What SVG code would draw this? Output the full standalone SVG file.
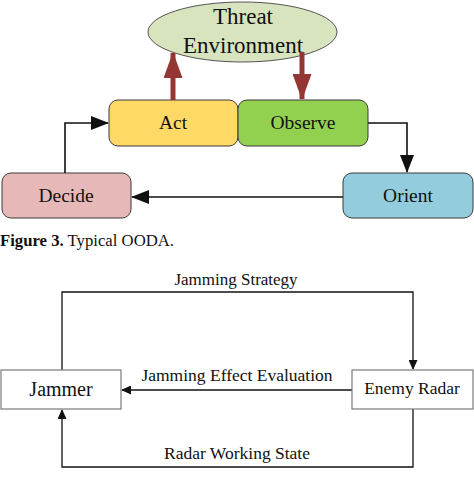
<svg xmlns="http://www.w3.org/2000/svg" width="474" height="489" viewBox="0 0 474 489">
<defs>
<style>
.t{font-family:"Liberation Serif","Times New Roman",serif;fill:#111;text-anchor:middle}
.box{stroke:#3a3a3a;stroke-width:1}
.bk{fill:none;stroke:#111;stroke-width:1.6}
.rd{fill:none;stroke:#943634;stroke-width:5}
.rb{fill:#fff;stroke:#7a7a7a;stroke-width:1.2}
.ln{fill:none;stroke:#111;stroke-width:1.3}
</style>
<marker id="ah" markerWidth="18" markerHeight="14" refX="17" refY="7" orient="auto" markerUnits="userSpaceOnUse">
<path d="M0,0 L18,7 L0,14 Z" fill="#111"/>
</marker>
<marker id="ar" markerWidth="26" markerHeight="19" refX="25" refY="9.5" orient="auto" markerUnits="userSpaceOnUse" viewBox="0 0 26 19">
<path d="M0,0 L26,9.5 L0,19 Z" fill="#943634"/>
</marker>
<marker id="as" markerWidth="10" markerHeight="9" refX="9" refY="4.5" orient="auto" markerUnits="userSpaceOnUse">
<path d="M0,0 L10,4.5 L0,9 Z" fill="#111"/>
</marker>
</defs>
<rect width="474" height="489" fill="#fff"/>

<g id="threat">
<ellipse cx="242.5" cy="32" rx="94.5" ry="30" fill="#D7E4BD" stroke="#555" stroke-width="1"/>
<text class="t" x="243" y="24" font-size="23">Threat</text>
<text class="t" x="243" y="53" font-size="23">Environment</text>
</g>
<g id="act">
<rect class="box" x="109" y="100" width="129" height="46" rx="9" fill="#FFD966"/>
<text class="t" x="173" y="129" font-size="19.5">Act</text>
</g>
<g id="observe">
<rect class="box" x="238" y="100" width="130" height="46" rx="9" fill="#92D050"/>
<text class="t" x="303" y="129" font-size="19.5">Observe</text>
</g>
<g id="decide">
<rect class="box" x="2" y="173" width="129" height="45" rx="9" fill="#E6B9B8"/>
<text class="t" x="66" y="202" font-size="19.5">Decide</text>
</g>
<g id="orient">
<rect class="box" x="343" y="173" width="130" height="45" rx="9" fill="#93CDDD"/>
<text class="t" x="408" y="202" font-size="19.5">Orient</text>
</g>

<g id="connectors">
<path class="rd" d="M173,100 V53" marker-end="url(#ar)"/>
<path class="rd" d="M302,52 V99" marker-end="url(#ar)"/>
<path class="bk" d="M65,173 V123 H108" marker-end="url(#ah)"/>
<path class="bk" d="M368,123 H407 V172" marker-end="url(#ah)"/>
<path class="bk" d="M343,197 H132" marker-end="url(#ah)"/>
<path class="ln" d="M62,370 V292 H413 V369" marker-end="url(#as)"/>
<path class="ln" d="M352,390 H122" marker-end="url(#as)"/>
<path class="ln" d="M413,409 V467 H62 V410" marker-end="url(#as)"/>
</g>

<g id="caption">
<text x="0" y="246" font-family="Liberation Serif,serif" font-size="16.5" fill="#111" textLength="174" lengthAdjust="spacingAndGlyphs"><tspan font-weight="bold">Figure 3.</tspan> Typical OODA.</text>
</g>

<g id="jammer">
<rect class="rb" x="1" y="370" width="120" height="39"/>
<text class="t" x="61" y="396" font-size="20">Jammer</text>
</g>
<g id="radar">
<rect class="rb" x="352" y="370" width="121" height="39"/>
<text class="t" x="412" y="394" font-size="17.5">Enemy Radar</text>
</g>
<g id="labels">
<text class="t" x="236" y="285" font-size="17">Jamming Strategy</text>
<text class="t" x="237" y="381" font-size="17.5">Jamming Effect Evaluation</text>
<text class="t" x="237" y="459" font-size="17.5">Radar Working State</text>
</g>
</svg>
